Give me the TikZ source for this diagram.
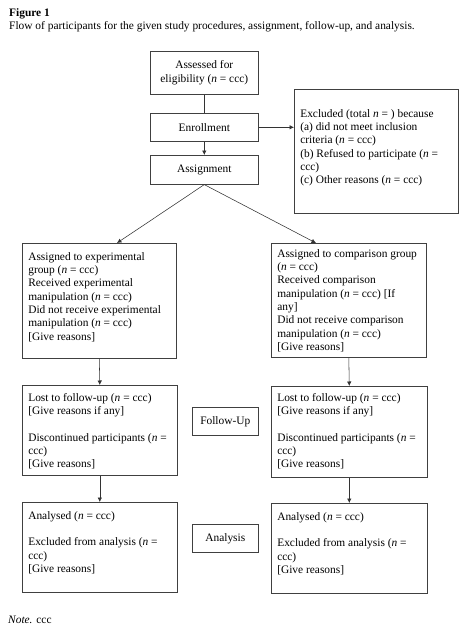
\documentclass[tikz,border=0pt]{standalone}
\usepackage{fontspec}
\setmainfont{Liberation Serif}
\usetikzlibrary{arrows.meta,calc}
\newcommand\boxtext[4]{\parbox[t][#2pt][t]{#1pt}{\raggedright\leftskip=6pt\rule{0pt}{#3pt}#4}}
\newcommand\nn{\textit{n}}
\begin{document}
\begin{tikzpicture}[x=1pt,y=-1pt,
  every node/.style={font=\fontsize{11.4}{13.3}\selectfont, text=black},
  cbox/.style={draw=black!75, line width=0.6pt, inner sep=0pt, anchor=north west, align=center},
  tbox/.style={draw=black!75, line width=0.6pt, inner sep=0pt, anchor=north west},
  conn/.style={draw=black!80, line width=0.55pt},
  arr/.style={conn, -{Latex[length=4.5pt,width=4.5pt]}},
  lbl/.style={inner sep=0pt, anchor=base west}]
\useasboundingbox (0,0) rectangle (467,640);
\node[lbl] (fig) at (9,16.5) {\textbf{Figure 1}};
\node[lbl] (cap) at (9,29) {Flow of participants for the given study procedures, assignment, follow-up, and analysis.};
\node[cbox, minimum width=108pt, minimum height=43pt] (assess) at (150,51) {Assessed for\\eligibility (\nn{} = ccc)};
\node[cbox, minimum width=108pt, minimum height=28pt] (enroll) at (150,113) {Enrollment};
\node[cbox, minimum width=108pt, minimum height=29pt] (assign) at (150,155) {Assignment};
\node[tbox] (excl) at (294,89) {\boxtext{164}{124}{28}{Excluded (total \nn{} = ) because\\(a) did not meet inclusion\\criteria (\nn{} = ccc)\\(b) Refused to participate (\nn{} =\\ccc)\\(c) Other reasons (\nn{} = ccc)}};
\node[tbox] (expA) at (22,243) {\boxtext{154}{115}{17}{Assigned to experimental\\group (\nn{} = ccc)\\Received experimental\\manipulation (\nn{} = ccc)\\Did not receive experimental\\manipulation (\nn{} = ccc)\\{[}Give reasons{]}}};
\node[tbox] (cmpA) at (271,243) {\boxtext{155}{114}{14}{Assigned to comparison group\\(\nn{} = ccc)\\Received comparison\\manipulation (\nn{} = ccc) [If\\any]\\Did not receive comparison\\manipulation (\nn{} = ccc)\\{[}Give reasons{]}}};
\node[tbox] (fuL) at (22,385) {\boxtext{155}{90}{16}{Lost to follow-up (\nn{} = ccc)\\{[}Give reasons if any{]}\\[13.3pt]Discontinued participants (\nn{} =\\ccc)\\{[}Give reasons{]}}};
\node[tbox] (fuR) at (271,386) {\boxtext{156}{91}{15}{Lost to follow-up (\nn{} = ccc)\\{[}Give reasons if any{]}\\[13.3pt]Discontinued participants (\nn{} =\\ccc)\\{[}Give reasons{]}}};
\node[cbox, minimum width=66pt, minimum height=28pt] (fuMid) at (192,407) {Follow-Up};
\node[tbox] (anL) at (22,502) {\boxtext{155}{90}{17}{Analysed (\nn{} = ccc)\\[13.3pt]Excluded from analysis (\nn{} =\\ccc)\\{[}Give reasons{]}}};
\node[tbox] (anR) at (271,503) {\boxtext{156}{90}{17}{Analysed (\nn{} = ccc)\\[13.3pt]Excluded from analysis (\nn{} =\\ccc)\\{[}Give reasons{]}}};
\node[cbox, minimum width=66pt, minimum height=28pt] (anMid) at (192,524) {Analysis};
\node[lbl] (note) at (8,623) {\textit{Note.} ccc};
% connectors
\draw[conn] (assess.south) -- (enroll.north);
\draw[arr] (enroll.east) -- (enroll.east -| excl.west);
\draw[arr] (enroll.south) -- (assign.north);
\draw[arr] (assign.south) -- ($(expA.north west)+(95,0)$);
\draw[arr] (assign.south) -- ($(cmpA.north west)+(45,0)$);
\draw[arr] (expA.south) -- (fuL.north);
\draw[arr] (fuL.south) -- (anL.north);
\draw[arr] (cmpA.south) -- (fuR.north);
\draw[arr] (fuR.south) -- (anR.north);
\end{tikzpicture}
\end{document}
